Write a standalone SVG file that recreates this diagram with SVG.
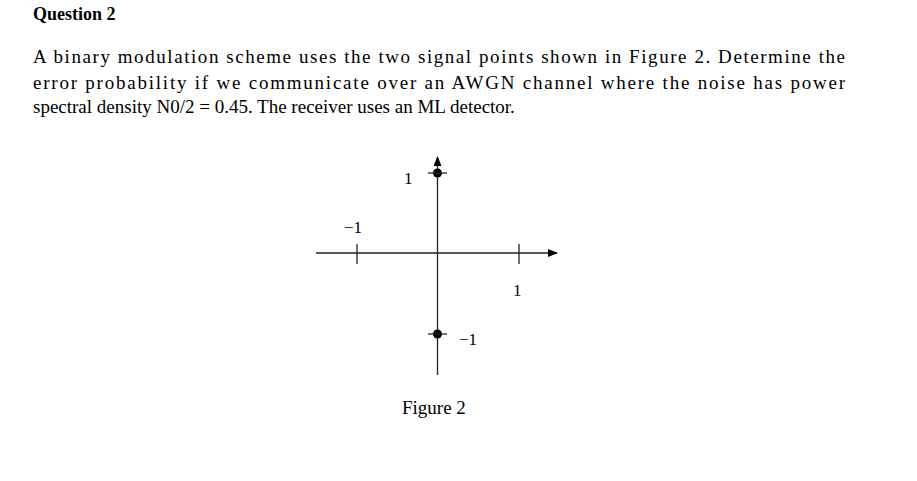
<svg xmlns="http://www.w3.org/2000/svg" width="917" height="481" viewBox="0 0 917 481">
<style>
text{font-family:"Liberation Serif",serif;fill:#000}
.p{font-size:19px}
.l{font-size:17px}
.ax{stroke:#222;stroke-width:1.3;fill:none}
</style>
<defs><marker id="ar" markerWidth="10" markerHeight="8" refX="9" refY="4" orient="auto" markerUnits="userSpaceOnUse"><path d="M0,0 L10,4 L0,8 Z" fill="#000"/></marker></defs>
<rect width="917" height="481" fill="#fff"/>
<text x="33" y="20" style="font-size:18px;font-weight:bold">Question 2</text>
<text class="p" x="33" y="63" textLength="812" lengthAdjust="spacing">A binary modulation scheme uses the two signal points shown in Figure 2. Determine the</text>
<text class="p" x="33" y="89" textLength="812" lengthAdjust="spacing">error probability if we communicate over an AWGN channel where the noise has power</text>
<text class="p" x="33" y="113">spectral density N0/2 = 0.45. The receiver uses an ML detector.</text>
<g id="connectors">
<line class="ax" x1="316" y1="253" x2="557" y2="253" marker-end="url(#ar)"/>
<line class="ax" x1="437.5" y1="375" x2="437.5" y2="157" marker-end="url(#ar)"/>
<line class="ax" x1="357" y1="244" x2="357" y2="264"/>
<line class="ax" x1="519" y1="244" x2="519" y2="264"/>
</g>
<g id="p1"><circle cx="437.5" cy="173" r="4.5" fill="#000"/><line class="ax" x1="428" y1="173" x2="447" y2="173"/></g>
<g id="p2"><circle cx="437.5" cy="334" r="4.5" fill="#000"/><line class="ax" x1="428" y1="334" x2="447" y2="334"/></g>
<text class="l" x="404" y="184">1</text>
<text class="l" x="344" y="233">−1</text>
<text class="l" x="513" y="296">1</text>
<text class="l" x="459" y="345">−1</text>
<text class="p" x="402" y="414">Figure 2</text>
</svg>
